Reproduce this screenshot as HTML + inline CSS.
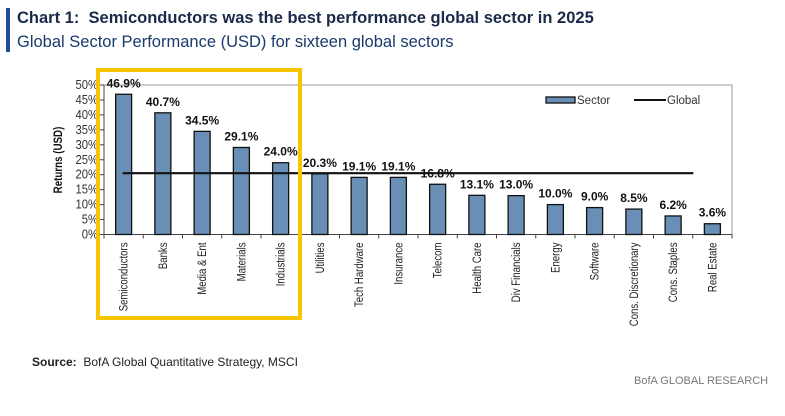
<!DOCTYPE html>
<html><head><meta charset="utf-8"><style>
body{margin:0;width:785px;height:416px;background:#fff;font-family:"Liberation Sans",sans-serif;overflow:hidden;position:relative}
.t{position:absolute;white-space:nowrap}
</style></head><body>
<div style="position:absolute;left:6px;top:8px;width:4px;height:44px;background:#1f4e9c"></div>
<div class="t" style="left:17px;top:9px;font-size:16.5px;font-weight:bold;color:#1a2a4a">Chart 1:&nbsp; Semiconductors was the best performance global sector in 2025</div>
<div class="t" style="left:17px;top:33px;font-size:16.5px;color:#1a3a6a">Global Sector Performance (USD) for sixteen global sectors</div>
<svg id="chart" width="785" height="416" style="position:absolute;left:0;top:0"></svg>
<div class="t" style="left:32px;top:355px;font-size:12px;color:#222"><b>Source:</b>&nbsp; BofA Global Quantitative Strategy, MSCI</div>
<div class="t" style="left:634px;top:375px;font-size:11px;color:#777">BofA GLOBAL RESEARCH</div>
<script>
const categories=["Semiconductors","Banks","Media & Ent","Materials","Industrials","Utilities","Tech Hardware","Insurance","Telecom","Health Care","Div Financials","Energy","Software","Cons. Discretionary","Cons. Staples","Real Estate"];
const sectorValues=[46.9,40.7,34.5,29.1,24.0,20.3,19.1,19.1,16.8,13.1,13.0,10.0,9.0,8.5,6.2,3.6];
const globalValue=[20.5];
const yTicks=[0,5,10,15,20,25,30,35,40,45,50];
const NS="http://www.w3.org/2000/svg";
const svg=document.getElementById('chart');
const L=104,R=732,Y0=234.5,Y50=85;
const x=i=>L+(R-L)/categories.length*(i+0.5);
const bw=(R-L)/categories.length;
const y=v=>Y0-(Y0-Y50)*v/50;
function mk(t,a,p){const e=document.createElementNS(NS,t);for(const k in a)e.setAttribute(k,a[k]);(p||svg).appendChild(e);return e;}
let e;
e=mk('polyline',{points:`${L},${Y50} ${R},${Y50} ${R},${Y0}`,fill:'none',stroke:'#999','stroke-width':1});


e=mk('line',{x1:L,y1:Y50,x2:L,y2:Y0,stroke:'#444'});


e=mk('line',{x1:L,y1:Y0,x2:R,y2:Y0,stroke:'#444'});


yTicks.forEach(v=>{
 e=mk('line',{x1:L-4,y1:y(v),x2:L,y2:y(v),stroke:'#444'});
 
 
 e=mk('text',{transform:`translate(${L-6},${y(v)+4}) scale(0.9,1)`,'text-anchor':'end','font-size':12.5,fill:'#333'});e.textContent=v+'%';
 
 
});
e=mk('text',{transform:`translate(62,160) rotate(-90) scale(0.85,1)`,'text-anchor':'middle','font-size':11.5,'font-weight':'bold',fill:'#111'});e.textContent='Returns (USD)';


for(let i=0;i<=categories.length;i++){
 e=mk('line',{x1:L+bw*i,y1:Y0,x2:L+bw*i,y2:Y0+4,stroke:'#444'});
 
 
}
categories.forEach((c,i)=>{
 const v=sectorValues[i];
 e=mk('rect',{x:x(i)-8,y:y(v),width:16,height:Y0-y(v),fill:'#6a8fb6',stroke:'#111','stroke-width':1.3});
 
 
 e=mk('text',{x:x(i),y:y(v)-7,'text-anchor':'middle','font-size':12,'font-weight':'bold',fill:'#111'});e.textContent=v.toFixed(1)+'%';
 
 
 e=mk('text',{transform:`translate(${x(i)+4},${Y0+8}) rotate(-90) scale(0.8,1)`,'text-anchor':'end','font-size':12,fill:'#222'});e.textContent=c;
 
 
});
e=mk('line',{x1:x(0)-1,y1:y(globalValue[0]),x2:x(15)-19,y2:y(globalValue[0]),stroke:'#111','stroke-width':2.2});


e=mk('rect',{x:546,y:97,width:29,height:6,fill:'#6a8fb6',stroke:'#111','stroke-width':1.3});


e=mk('text',{x:577,y:104,'font-size':11.5,fill:'#333'});e.textContent='Sector';


e=mk('line',{x1:634,y1:100,x2:666,y2:100,stroke:'#111','stroke-width':2});


e=mk('text',{x:667,y:104,'font-size':11.5,fill:'#333'});e.textContent='Global';


e=mk('rect',{x:98,y:70,width:202,height:248,fill:'none',stroke:'#f7c600','stroke-width':4});


</script>
</body></html>
